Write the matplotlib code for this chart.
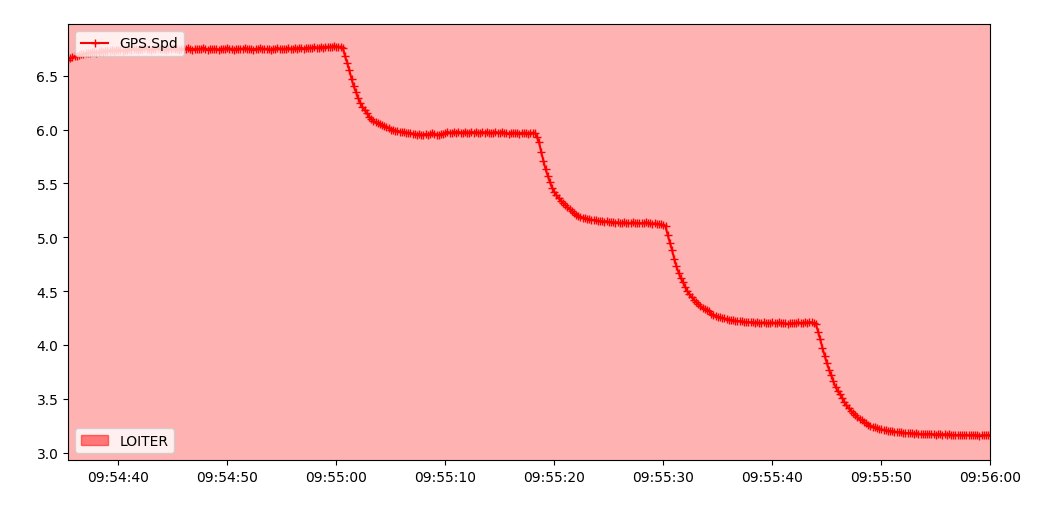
import datetime as dt

import numpy as np
import matplotlib
matplotlib.use("Agg")
from matplotlib import pyplot as plt
import matplotlib.dates as mdates
from matplotlib.patches import Patch

BASE = dt.datetime(2020, 1, 1, 9, 55, 0)
STEP_S = 0.2  # 5 Hz GPS samples

# (segment start in seconds after 09:55:00, GPS speed samples)
seg1_start = -24.6
seg1_spd = [
    6.65, 6.66, 6.67, 6.68, 6.68, 6.69, 6.70, 6.70, 6.71, 6.71,
    6.71, 6.72, 6.72, 6.71, 6.72, 6.73, 6.72, 6.73, 6.73, 6.73,
    6.74, 6.73, 6.74, 6.74, 6.74, 6.73, 6.74, 6.74, 6.75, 6.74,
    6.75, 6.75, 6.74, 6.75, 6.75, 6.76, 6.75, 6.75, 6.74, 6.75,
    6.75, 6.76, 6.75, 6.75, 6.75, 6.74, 6.75, 6.75, 6.76, 6.75,
    6.75, 6.74, 6.75, 6.75, 6.75, 6.76, 6.75, 6.74, 6.75, 6.75,
    6.75, 6.75, 6.76, 6.75, 6.74, 6.75, 6.75, 6.75, 6.75, 6.74,
    6.75, 6.75, 6.75, 6.76, 6.75, 6.75, 6.74, 6.75, 6.75, 6.75,
    6.75, 6.76, 6.75, 6.75, 6.75, 6.74, 6.75, 6.75, 6.76, 6.75,
    6.75, 6.75, 6.75, 6.74, 6.75, 6.75, 6.76, 6.75, 6.75, 6.75,
    6.75, 6.76, 6.75, 6.75, 6.76, 6.75, 6.76, 6.76, 6.75, 6.76,
    6.76, 6.76, 6.76, 6.77, 6.76, 6.76, 6.77, 6.76, 6.77, 6.77,
    6.77, 6.77, 6.78, 6.77, 6.77, 6.77,
]

seg2_start = 0.6
seg2_spd = [
    6.76, 6.68, 6.62, 6.55, 6.47, 6.40, 6.35, 6.29, 6.25, 6.21,
    6.18, 6.15, 6.12, 6.10, 6.08, 6.07, 6.06, 6.05, 6.04, 6.03,
    6.02, 6.01, 6.00, 6.00, 5.99, 5.99, 5.98, 5.98, 5.98, 5.97,
    5.97, 5.97, 5.96, 5.96, 5.95, 5.96, 5.95, 5.95, 5.96, 5.95,
    5.96, 5.97, 5.96, 5.95, 5.95, 5.96, 5.96, 5.97, 5.98, 5.97,
    5.97, 5.98, 5.97, 5.98, 5.97, 5.97, 5.98, 5.97, 5.97, 5.98,
    5.97, 5.98, 5.97, 5.97, 5.98, 5.97, 5.98, 5.97, 5.97, 5.97,
    5.98, 5.97, 5.97, 5.98, 5.97, 5.97, 5.96, 5.97, 5.97, 5.97,
    5.97, 5.96, 5.97, 5.97, 5.97, 5.96, 5.97, 5.97,
]

seg3_start = 18.2
seg3_spd = [
    5.97, 5.93, 5.88, 5.79, 5.71, 5.63, 5.57, 5.51, 5.46, 5.42,
    5.39, 5.36, 5.34, 5.32, 5.30, 5.28, 5.26, 5.24, 5.22, 5.21,
    5.20, 5.19, 5.18, 5.18, 5.17, 5.17, 5.16, 5.16, 5.16, 5.15,
    5.15, 5.15, 5.14, 5.15, 5.14, 5.14, 5.14, 5.13, 5.14, 5.13,
    5.13, 5.14, 5.13, 5.13, 5.13, 5.14, 5.13, 5.13, 5.13, 5.13,
    5.13, 5.14, 5.13, 5.13, 5.12, 5.13, 5.12, 5.12, 5.12, 5.11,
]

seg4_start = 30.2
seg4_spd = [
    5.10, 5.02, 4.95, 4.88, 4.80, 4.73, 4.67, 4.62, 4.58, 4.54,
    4.50, 4.47, 4.44, 4.42, 4.40, 4.38, 4.36, 4.345, 4.33, 4.32,
    4.31, 4.29, 4.28, 4.27, 4.26, 4.255, 4.25, 4.245, 4.24, 4.235,
    4.23, 4.23, 4.225, 4.22, 4.22, 4.22, 4.21, 4.21, 4.21, 4.21,
    4.21, 4.20, 4.21, 4.20, 4.20, 4.21, 4.20, 4.20, 4.20, 4.21,
    4.20, 4.20, 4.21, 4.20, 4.20, 4.20, 4.19, 4.20, 4.20, 4.20,
    4.20, 4.21, 4.20, 4.20, 4.21, 4.20, 4.21, 4.21, 4.20,
]

seg5_start = 44.0
seg5_spd = [
    4.19, 4.12, 4.05, 3.97, 3.90, 3.83, 3.77, 3.72, 3.66, 3.61,
    3.57, 3.54, 3.51, 3.47, 3.44, 3.41, 3.39, 3.37, 3.35, 3.33,
    3.31, 3.30, 3.28, 3.27, 3.26, 3.25, 3.24, 3.235, 3.23, 3.22,
    3.215, 3.21, 3.21, 3.20, 3.20, 3.20, 3.195, 3.19, 3.19, 3.19,
    3.185, 3.18, 3.18, 3.18, 3.18, 3.175, 3.18, 3.175, 3.17, 3.17,
    3.17, 3.17, 3.175, 3.17, 3.17, 3.165, 3.17, 3.17, 3.165, 3.17,
    3.165, 3.17, 3.165, 3.16, 3.165, 3.16, 3.165, 3.16, 3.16, 3.165,
    3.16, 3.16, 3.165, 3.16, 3.16, 3.155, 3.16, 3.16, 3.16, 3.16, 3.16,
]

segments = [(seg1_start, seg1_spd), (seg2_start, seg2_spd),
            (seg3_start, seg3_spd), (seg4_start, seg4_spd),
            (seg5_start, seg5_spd)]

t, spd = [], []
for start, vals in segments:
  for i, v in enumerate(vals):
    t.append(BASE + dt.timedelta(seconds=start + i * STEP_S))
    spd.append(v)

mode_name = "LOITER"
x_lo = BASE + dt.timedelta(seconds=-24.6)
x_hi = BASE + dt.timedelta(seconds=60.0)

fig = plt.figure(figsize=(10.48, 5.10), dpi=100)
ax = fig.add_axes([0.065, 0.096, 0.880, 0.855])

ax.axvspan(x_lo, x_hi, color="red", alpha=0.3, lw=0)
line, = ax.plot(t, spd, color="red", marker="+", label="GPS.Spd")

ax.set_xlim(x_lo, x_hi)
ax.set_ylim(2.93, 6.98)
ax.xaxis.set_major_locator(mdates.SecondLocator(bysecond=range(0, 60, 10)))
ax.xaxis.set_major_formatter(mdates.DateFormatter("%H:%M:%S"))

leg1 = ax.legend(handles=[line], loc="upper left")
ax.add_artist(leg1)
ax.legend(handles=[Patch(color="red", alpha=0.5, label=mode_name)],
          loc="lower left")

plt.savefig("out.png", dpi=100)
